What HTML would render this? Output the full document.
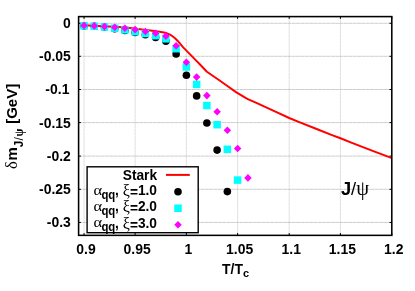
<!DOCTYPE html>
<html><head><meta charset="utf-8"><title>J/psi mass shift</title>
<style>
html,body{margin:0;padding:0;background:#fff;}
svg{display:block;}
text{font-family:"Liberation Sans",sans-serif;font-weight:bold;fill:#000;}
.sym{font-family:"Liberation Serif",serif;font-weight:normal;}
</style></head><body>
<svg width="415" height="291" viewBox="0 0 415 291">
<rect x="0" y="0" width="415" height="291" fill="#fff"/>
<g stroke="#c4c4c4" stroke-width="0.55" stroke-dasharray="3.2,0.3" fill="none">
<line x1="84.05" y1="16.6" x2="84.05" y2="235.35"/>
<line x1="135.10" y1="16.6" x2="135.10" y2="235.35"/>
<line x1="186.40" y1="16.6" x2="186.40" y2="235.35"/>
<line x1="237.60" y1="16.6" x2="237.60" y2="235.35"/>
<line x1="289.20" y1="16.6" x2="289.20" y2="235.35"/>
<line x1="340.40" y1="16.6" x2="340.40" y2="235.35"/>
</g>
<g stroke="#acacac" stroke-width="0.6" stroke-dasharray="4,0.35" fill="none">
<line x1="78.6" y1="23.30" x2="391.8" y2="23.30"/>
<line x1="78.6" y1="56.30" x2="391.8" y2="56.30"/>
<line x1="78.6" y1="89.50" x2="391.8" y2="89.50"/>
<line x1="78.6" y1="122.60" x2="391.8" y2="122.60"/>
<line x1="78.6" y1="156.10" x2="391.8" y2="156.10"/>
<line x1="78.6" y1="189.30" x2="391.8" y2="189.30"/>
<line x1="78.6" y1="222.45" x2="391.8" y2="222.45"/>
</g>
<g stroke="#000" stroke-width="1" fill="none">
<line x1="84.05" y1="16.6" x2="84.05" y2="18.900000000000002"/>
<line x1="84.05" y1="235.35" x2="84.05" y2="233.04999999999998"/>
<line x1="135.10" y1="16.6" x2="135.10" y2="18.900000000000002"/>
<line x1="135.10" y1="235.35" x2="135.10" y2="233.04999999999998"/>
<line x1="186.40" y1="16.6" x2="186.40" y2="18.900000000000002"/>
<line x1="186.40" y1="235.35" x2="186.40" y2="233.04999999999998"/>
<line x1="237.60" y1="16.6" x2="237.60" y2="18.900000000000002"/>
<line x1="237.60" y1="235.35" x2="237.60" y2="233.04999999999998"/>
<line x1="289.20" y1="16.6" x2="289.20" y2="18.900000000000002"/>
<line x1="289.20" y1="235.35" x2="289.20" y2="233.04999999999998"/>
<line x1="340.40" y1="16.6" x2="340.40" y2="18.900000000000002"/>
<line x1="340.40" y1="235.35" x2="340.40" y2="233.04999999999998"/>
<line x1="391.80" y1="16.6" x2="391.80" y2="18.900000000000002"/>
<line x1="391.80" y1="235.35" x2="391.80" y2="233.04999999999998"/>
<line x1="78.6" y1="23.30" x2="80.89999999999999" y2="23.30"/>
<line x1="391.8" y1="23.30" x2="389.5" y2="23.30"/>
<line x1="78.6" y1="56.30" x2="80.89999999999999" y2="56.30"/>
<line x1="391.8" y1="56.30" x2="389.5" y2="56.30"/>
<line x1="78.6" y1="89.50" x2="80.89999999999999" y2="89.50"/>
<line x1="391.8" y1="89.50" x2="389.5" y2="89.50"/>
<line x1="78.6" y1="122.60" x2="80.89999999999999" y2="122.60"/>
<line x1="391.8" y1="122.60" x2="389.5" y2="122.60"/>
<line x1="78.6" y1="156.10" x2="80.89999999999999" y2="156.10"/>
<line x1="391.8" y1="156.10" x2="389.5" y2="156.10"/>
<line x1="78.6" y1="189.30" x2="80.89999999999999" y2="189.30"/>
<line x1="391.8" y1="189.30" x2="389.5" y2="189.30"/>
<line x1="78.6" y1="222.45" x2="80.89999999999999" y2="222.45"/>
<line x1="391.8" y1="222.45" x2="389.5" y2="222.45"/>
</g>
<polyline points="84.2,25.3 89.0,25.4 99.4,25.9 109.5,26.5 119.8,27.1 130.0,28.0 140.0,29.3 150.3,30.5 159.6,31.7 164.0,32.5 166.9,33.3 170.0,34.7 172.2,36.0 175.0,38.2 178.0,41.2 180.5,44.2 183.2,47.4 186.4,50.6 195.0,59.4 201.0,65.5 206.9,71.7 219.3,80.2 227.4,86.0 236.0,92.1 245.6,97.9 248.4,99.4 255.3,102.3 264.0,106.4 276.5,112.2 289.2,118.0 298.0,121.6 317.3,129.3 332.0,135.1 340.5,138.3 351.3,142.6 372.0,150.6 391.3,157.9" fill="none" stroke="#ff0000" stroke-width="2" stroke-linejoin="round"/>
<circle cx="84.05" cy="25.9" r="3.8" fill="#000"/>
<circle cx="94.26" cy="26.3" r="3.8" fill="#000"/>
<circle cx="104.47" cy="27.1" r="3.8" fill="#000"/>
<circle cx="114.68" cy="28.7" r="3.8" fill="#000"/>
<circle cx="124.89" cy="30.5" r="3.8" fill="#000"/>
<circle cx="135.10" cy="32.5" r="3.8" fill="#000"/>
<circle cx="145.36" cy="34.75" r="3.8" fill="#000"/>
<circle cx="155.62" cy="37.5" r="3.8" fill="#000"/>
<circle cx="165.88" cy="41.2" r="3.8" fill="#000"/>
<circle cx="176.14" cy="54" r="3.8" fill="#000"/>
<circle cx="186.40" cy="75.3" r="3.8" fill="#000"/>
<circle cx="196.64" cy="95.9" r="3.8" fill="#000"/>
<circle cx="206.88" cy="123.0" r="3.8" fill="#000"/>
<circle cx="217.12" cy="150.1" r="3.8" fill="#000"/>
<circle cx="227.36" cy="191.6" r="3.8" fill="#000"/>
<rect x="80.30" y="22.15" width="7.5" height="7.5" fill="#00ffff"/>
<rect x="90.51" y="22.55" width="7.5" height="7.5" fill="#00ffff"/>
<rect x="100.72" y="23.25" width="7.5" height="7.5" fill="#00ffff"/>
<rect x="110.93" y="24.45" width="7.5" height="7.5" fill="#00ffff"/>
<rect x="121.14" y="26.15" width="7.5" height="7.5" fill="#00ffff"/>
<rect x="131.35" y="28.00" width="7.5" height="7.5" fill="#00ffff"/>
<rect x="141.61" y="29.75" width="7.5" height="7.5" fill="#00ffff"/>
<rect x="151.87" y="31.95" width="7.5" height="7.5" fill="#00ffff"/>
<rect x="162.13" y="35.05" width="7.5" height="7.5" fill="#00ffff"/>
<rect x="172.39" y="44.95" width="7.5" height="7.5" fill="#00ffff"/>
<rect x="182.65" y="63.25" width="7.5" height="7.5" fill="#00ffff"/>
<rect x="192.89" y="80.65" width="7.5" height="7.5" fill="#00ffff"/>
<rect x="203.13" y="101.75" width="7.5" height="7.5" fill="#00ffff"/>
<rect x="213.37" y="120.95" width="7.5" height="7.5" fill="#00ffff"/>
<rect x="223.61" y="145.55" width="7.5" height="7.5" fill="#00ffff"/>
<rect x="233.85" y="176.35" width="7.5" height="7.5" fill="#00ffff"/>
<polygon points="80.30,25.5 84.05,21.70 87.80,25.5 84.05,29.30" fill="#ff00ff"/>
<polygon points="90.51,25.9 94.26,22.10 98.01,25.9 94.26,29.70" fill="#ff00ff"/>
<polygon points="100.72,26.5 104.47,22.70 108.22,26.5 104.47,30.30" fill="#ff00ff"/>
<polygon points="110.93,27.25 114.68,23.45 118.43,27.25 114.68,31.05" fill="#ff00ff"/>
<polygon points="121.14,28.3 124.89,24.50 128.64,28.3 124.89,32.10" fill="#ff00ff"/>
<polygon points="131.35,29.6 135.10,25.80 138.85,29.6 135.10,33.40" fill="#ff00ff"/>
<polygon points="141.61,31.5 145.36,27.70 149.11,31.5 145.36,35.30" fill="#ff00ff"/>
<polygon points="151.87,33.2 155.62,29.40 159.37,33.2 155.62,37.00" fill="#ff00ff"/>
<polygon points="162.13,36.1 165.88,32.30 169.63,36.1 165.88,39.90" fill="#ff00ff"/>
<polygon points="172.39,45.7 176.14,41.90 179.89,45.7 176.14,49.50" fill="#ff00ff"/>
<polygon points="182.65,62.3 186.40,58.50 190.15,62.3 186.40,66.10" fill="#ff00ff"/>
<polygon points="192.89,77.1 196.64,73.30 200.39,77.1 196.64,80.90" fill="#ff00ff"/>
<polygon points="203.13,95.6 206.88,91.80 210.63,95.6 206.88,99.40" fill="#ff00ff"/>
<polygon points="213.37,111.7 217.12,107.90 220.87,111.7 217.12,115.50" fill="#ff00ff"/>
<polygon points="223.61,130.3 227.36,126.50 231.11,130.3 227.36,134.10" fill="#ff00ff"/>
<polygon points="233.85,148.5 237.60,144.70 241.35,148.5 237.60,152.30" fill="#ff00ff"/>
<polygon points="244.17,177.9 247.92,174.10 251.67,177.9 247.92,181.70" fill="#ff00ff"/>
<rect x="78.6" y="16.6" width="313.20000000000005" height="218.75" fill="none" stroke="#000" stroke-width="1.55"/>
<rect x="87.1" y="166.8" width="111.1" height="65.9" fill="#fff" stroke="#000" stroke-width="1.4"/>
<text transform="translate(157.1,179.6) scale(1,1.04)" font-size="13.75" text-anchor="end">Stark</text>
<line x1="166" y1="174.9" x2="189.8" y2="174.9" stroke="#ff0000" stroke-width="2"/>
<text transform="translate(93.6,194.5) scale(1,0.9)" font-size="16.5" text-anchor="start" class="sym">α</text>
<text transform="translate(157.0,194.9) scale(1,1.04)" font-size="13.75" text-anchor="end"><tspan font-size="11.4" dy="3.8">qq</tspan><tspan dy="-3.8" dx="-0.2">, </tspan><tspan class="sym" font-size="16" dy="1.2">ξ</tspan><tspan dy="1.0">=</tspan><tspan dy="-2.2">1.0</tspan></text>
<text transform="translate(93.6,210.8) scale(1,0.9)" font-size="16.5" text-anchor="start" class="sym">α</text>
<text transform="translate(157.0,211.20000000000002) scale(1,1.04)" font-size="13.75" text-anchor="end"><tspan font-size="11.4" dy="3.8">qq</tspan><tspan dy="-3.8" dx="-0.2">, </tspan><tspan class="sym" font-size="16" dy="1.2">ξ</tspan><tspan dy="1.0">=</tspan><tspan dy="-2.2">2.0</tspan></text>
<text transform="translate(93.6,227.1) scale(1,0.9)" font-size="16.5" text-anchor="start" class="sym">α</text>
<text transform="translate(157.0,227.5) scale(1,1.04)" font-size="13.75" text-anchor="end"><tspan font-size="11.4" dy="3.8">qq</tspan><tspan dy="-3.8" dx="-0.2">, </tspan><tspan class="sym" font-size="16" dy="1.2">ξ</tspan><tspan dy="1.0">=</tspan><tspan dy="-2.2">3.0</tspan></text>
<circle cx="178" cy="191.75" r="3.8" fill="#000"/>
<rect x="174.25" y="204.5" width="7.5" height="7.5" fill="#00ffff"/>
<polygon points="174.25,224.75 178,220.95 181.75,224.75 178,228.55" fill="#ff00ff"/>
<text transform="translate(70.8,28.2) scale(1,1.04)" font-size="13.95" text-anchor="end">0</text>
<text transform="translate(70.8,61.2) scale(1,1.04)" font-size="13.95" text-anchor="end">-0.05</text>
<text transform="translate(69.39999999999999,94.4) scale(1,1.04)" font-size="13.95" text-anchor="end">-0.1</text>
<text transform="translate(70.8,127.5) scale(1,1.04)" font-size="13.95" text-anchor="end">-0.15</text>
<text transform="translate(70.8,161.0) scale(1,1.04)" font-size="13.95" text-anchor="end">-0.2</text>
<text transform="translate(70.8,194.2) scale(1,1.04)" font-size="13.95" text-anchor="end">-0.25</text>
<text transform="translate(70.8,227.35) scale(1,1.04)" font-size="13.95" text-anchor="end">-0.3</text>
<text transform="translate(86.05,254.1) scale(1,1.04)" font-size="13.95" text-anchor="middle">0.9</text>
<text transform="translate(137.1,254.1) scale(1,1.04)" font-size="13.95" text-anchor="middle">0.95</text>
<text transform="translate(188.4,254.1) scale(1,1.04)" font-size="13.95" text-anchor="middle">1</text>
<text transform="translate(239.6,254.1) scale(1,1.04)" font-size="13.95" text-anchor="middle">1.05</text>
<text transform="translate(291.2,254.1) scale(1,1.04)" font-size="13.95" text-anchor="middle">1.1</text>
<text transform="translate(342.4,254.1) scale(1,1.04)" font-size="13.95" text-anchor="middle">1.15</text>
<text transform="translate(393.8,254.1) scale(1,1.04)" font-size="13.95" text-anchor="middle">1.2</text>
<text transform="translate(222,273.5) scale(1,1.04)" font-size="13.95" text-anchor="start">T/T<tspan font-size="11" dy="3.8">c</tspan></text>
<g transform="translate(17.3,168.6) rotate(-90)">
<text class="sym" x="-0.3" y="0" font-size="16.5">δ</text>
<text x="8.1" y="0" font-size="15">m</text>
<text x="21.4" y="5.4" font-size="12">J<tspan font-weight="normal">/</tspan></text>
<text class="sym" x="32" y="5.4" font-size="11.5" font-weight="bold" style="font-weight:bold">ψ</text>
<text x="44.8" y="0" font-size="15">[GeV]</text>
</g>
<text transform="translate(340.9,195.4) scale(1,1.04)" font-size="18.3" text-anchor="start">J<tspan font-weight="normal">/</tspan><tspan class="sym" font-size="20.5">ψ</tspan></text>
</svg></body></html>
